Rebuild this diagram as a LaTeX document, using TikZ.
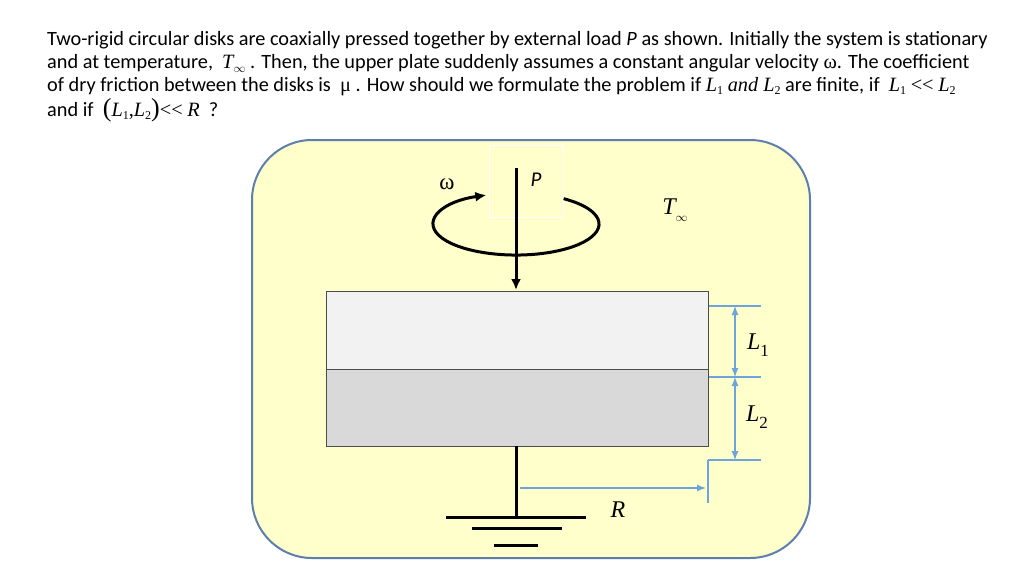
\documentclass[tikz,border=0pt]{standalone}
\usepackage{fontspec}
\setmainfont{Carlito}
\newfontfamily\tms{Liberation Serif}
\usetikzlibrary{arrows.meta}
\definecolor{boxfill}{HTML}{FFFFCC}
\definecolor{boxline}{HTML}{5C7FAE}
\definecolor{dimc}{HTML}{6FA3DC}
\newcommand{\mv}[1]{{\tms\itshape #1}}
\newcommand{\sbs}[1]{\raisebox{-3pt}{\tms\fontsize{12}{12}\selectfont #1}}
\begin{document}
\begin{tikzpicture}[x=1pt,y=-1pt,
  txt/.style={anchor=west,inner sep=0,font=\fontsize{20.3}{24}\selectfont},
  dim/.style={draw=dimc,line width=1.1pt},
  dimarr/.style={dim,{Latex[length=9pt,width=7pt]}-{Latex[length=9pt,width=7pt]}},
  blk/.style={line width=3pt,black}]
\useasboundingbox (0,0) rectangle (1024,565);
\fill[white] (0,0) rectangle (1024,565);
% text
\node[txt] (t1) at (47,40) {Two-rigid circular disks are coaxially pressed together by external load \textit{P} as shown. Initially the system is stationary};
\node[txt] (t2) at (47,63) {and at temperature, \ \mv{T}\raisebox{-4pt}{\fontsize{12}{12}\selectfont$\infty$}\ . Then, the upper plate suddenly assumes a constant angular velocity {\tms ω}. The coefficient};
\node[txt] (t3) at (47,87) {of dry friction between the disks is \ {\tms μ} . How should we formulate the problem if \mv{L}\sbs{1} \mv{and L}\sbs{2} are finite, if \ \mv{L}\sbs{1} {\tms<<} \mv{L}\sbs{2}};
\node[txt] (t4) at (47,110) {and if \ {\tms\fontsize{26}{26}\selectfont(}\mv{L}\sbs{1}{\tms,}\mv{L}\sbs{2}{\tms\fontsize{26}{26}\selectfont)}{\tms<<} \mv{R} \ ?};
% rounded box
\draw[fill=boxfill,draw=boxline,line width=2pt,rounded corners=60pt] (252,140) rectangle (810,558);
% square behind
\draw[fill=boxfill,draw=white,line width=0.6pt] (489,145) rectangle (563,217);
% ellipse
\coordinate (es) at (486.3,195.1);
\draw[blk,{Latex[length=11pt,width=10pt]}-] (es)
  arc[start angle=-111,end angle=-415,x radius=83,y radius=31];
\coordinate (ptop) at (516,168);
\coordinate (pbot) at (516,290);
\draw[blk,-{Latex[length=11pt,width=10pt]}] (ptop) -- (pbot);
\node (P) at (536,180) {\fontsize{21}{21}\selectfont\itshape P};
\node (om) at (447,184) {\fontsize{23}{23}\selectfont\tms ω};
\node (Tinf) at (675,210) {\fontsize{24}{24}\selectfont\mv{T}\raisebox{-7pt}{\fontsize{12}{12}\selectfont$\infty$}};
% disks
\draw[draw=gray!60!black,fill=black!5,line width=0.8pt] (326,291) rectangle (708,369);
\draw[draw=gray!60!black,fill=black!15,line width=0.8pt] (326,369) rectangle (708,446);
% stem and ground
\coordinate (s1) at (516,446);
\coordinate (s2) at (516,517);
\draw[blk] (s1) -- (s2);
\draw[blk] (446,517) -- (586,517);
\draw[blk] (472,528) -- (562,528);
\draw[blk] (494,545) -- (538,545);
% R
\coordinate (r1) at (520,488);
\coordinate (r2) at (706,488);
\draw[dim,-{Latex[length=9pt,width=7pt]}] (r1) -- (r2);
\draw[dim] (708,460) -- (708,503);
\node (R) at (618,510) {\fontsize{24}{24}\selectfont\mv{R}};
% L dims
\coordinate (d1) at (735,306);
\coordinate (d2) at (735,377);
\coordinate (d3) at (735,460);
\draw[dim] (709,306) -- (761,306);
\draw[dim] (709,377) -- (761,377);
\draw[dim] (708,460) -- (761,460);
\draw[dimarr] (d1) -- (d2);
\draw[dimarr] (d2) -- (d3);
\node (L1) at (758,345) {\fontsize{24}{24}\selectfont\mv{L}\raisebox{-7pt}{\tms\fontsize{17}{17}\selectfont 1}};
\node (L2) at (757,417) {\fontsize{24}{24}\selectfont\mv{L}\raisebox{-7pt}{\tms\fontsize{17}{17}\selectfont 2}};
\end{tikzpicture}
\end{document}
